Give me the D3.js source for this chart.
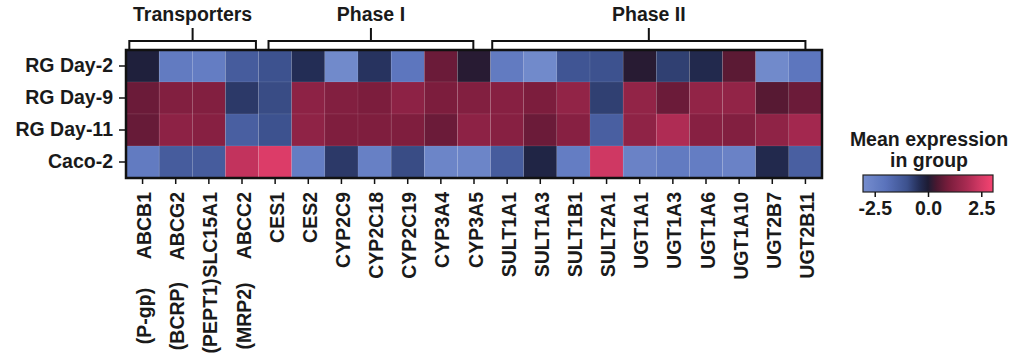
<!DOCTYPE html>
<html>
<head>
<meta charset="utf-8">
<script src="https://cdn.jsdelivr.net/npm/d3@7"></script>
<style>
  html, body { margin: 0; padding: 0; background: #ffffff; }
  svg text { font-family: "Liberation Sans", Arial, sans-serif; font-weight: bold; fill: #1a1a1a; }
</style>
</head>
<body>
<svg id="chart" width="1024" height="364"></svg>
<script>
// ---- data ----
const genes = ["ABCB1","ABCG2","SLC15A1","ABCC2","CES1","CES2","CYP2C9","CYP2C18","CYP2C19","CYP3A4","CYP3A5",
               "SULT1A1","SULT1A3","SULT1B1","SULT2A1","UGT1A1","UGT1A3","UGT1A6","UGT1A10","UGT2B7","UGT2B11"];
const aliases = ["(P-gp)","(BCRP)","(PEPT1)","(MRP2)"];
const groups = ["RG Day-2","RG Day-9","RG Day-11","Caco-2"];
const day2  = [-0.1,-2.3,-2.4,-1.3,-1.0,-0.4,-2.9,-0.5,-2.1, 0.8, 0.1,-2.3,-2.9,-1.1,-1.0, 0.1,-0.7,-0.3, 0.6,-2.9,-2.1];
const day9  = [ 0.8, 1.1, 1.1,-0.6,-0.9, 1.3, 1.1, 1.0, 1.3, 1.0, 1.1, 1.2, 1.0, 1.4,-0.7, 1.4, 0.8, 1.4, 1.4, 0.55, 0.8];
const day11 = [ 0.75,1.3, 1.2,-1.4,-1.0, 1.35,1.05,1.05,1.05,0.8, 1.3, 1.2, 0.8, 1.2,-1.4, 1.35,1.9, 1.2, 1.1, 1.35,1.7];
const caco2 = [-2.3,-1.3,-1.3, 2.2, 2.6,-2.4,-0.6,-2.5,-0.9,-2.7,-2.7,-1.3,-0.2,-2.4, 2.4,-2.6,-2.3,-2.4,-2.6,-0.3,-1.4];
const seriesValues = [day2, day9, day11, caco2];
const categoryNames = ["Transporters","Phase I","Phase II"];
const categoryFrom = [0.1, 4.3, 11.05];   // bracket extents, in column units
const categoryTo   = [3.92, 10.48, 20.5];
const colorbarTicks = [-2.5, 0.0, 2.5];
const colorStops  = [-3, -2, -1, -0.4, 0, 0.4, 1, 1.8, 2.5, 3];
const colorValues = ["#748ccd","#5a73bc","#3d528f","#232d55","#1d1c34","#4a1830","#7c1d3d","#a82a51","#d63a66","#f2426f"];

// ---- layout ----
const svg = d3.select("#chart");
const hmLeft = 126, hmRight = 822, hmTop = 50, hmBottom = 178;

const x = d3.scaleBand().domain(genes).range([hmLeft, hmRight]).padding(0);
const y = d3.scaleBand().domain(groups).range([hmTop, hmBottom]).padding(0);
const colUnit = d3.scaleLinear().domain([0, genes.length]).range([hmLeft, hmRight]);
const color = d3.scaleLinear().domain(colorStops).range(colorValues).interpolate(d3.interpolateRgb).clamp(true);

// cells
const cells = [];
groups.forEach((g, i) => genes.forEach((gene, j) => cells.push({g, gene, v: seriesValues[i][j]})));
svg.append("g").selectAll("rect").data(cells).join("rect")
  .attr("x", d => x(d.gene)).attr("y", d => y(d.g))
  .attr("width", x.bandwidth()).attr("height", y.bandwidth())
  .attr("fill", d => color(d.v))
  .attr("stroke", "rgba(255,255,255,0.12)").attr("stroke-width", 0.6);

// border
svg.append("rect").attr("x", hmLeft).attr("y", hmTop).attr("width", hmRight - hmLeft).attr("height", hmBottom - hmTop)
  .attr("fill", "none").attr("stroke", "#111").attr("stroke-width", 2.5);

// bottom axis
const xAxis = svg.append("g").attr("transform", `translate(0,${hmBottom + 1})`)
  .call(d3.axisBottom(x).tickSize(5).tickSizeOuter(0).tickFormat(""));
xAxis.select(".domain").remove();
xAxis.selectAll("line").attr("stroke", "#111").attr("stroke-width", 1.5);

// gene labels
const fs = 19.5;
svg.append("g").selectAll("text").data(genes).join("text")
  .attr("transform", d => `translate(${x(d) + x.bandwidth() / 2 + 1.5},192) rotate(-90)`)
  .attr("text-anchor", "end").attr("dy", "0.36em")
  .style("font-size", fs + "px").text(d => d);
svg.append("g").selectAll("text").data(aliases).join("text")
  .attr("transform", (d, i) => `translate(${x(genes[i]) + x.bandwidth() / 2 + 1.5},316) rotate(-90)`)
  .attr("text-anchor", "middle").attr("dy", "0.36em")
  .style("font-size", fs + "px").text(d => d);

// left axis
const yAxis = svg.append("g").attr("transform", `translate(${hmLeft - 1},0)`)
  .call(d3.axisLeft(y).tickSize(6).tickSizeOuter(0).tickPadding(6));
yAxis.select(".domain").remove();
yAxis.selectAll("line").attr("stroke", "#111").attr("stroke-width", 1.5);
yAxis.selectAll("text").style("font-size", fs + "px")
  .style("font-family", "'Liberation Sans', Arial, sans-serif").style("font-weight", "bold").attr("fill", "#1a1a1a");

// category brackets
const bY = 41, sY = 28;
categoryNames.forEach((name, i) => {
  const x0 = colUnit(categoryFrom[i]), x1 = colUnit(categoryTo[i]), xm = (x0 + x1) / 2;
  svg.append("path")
    .attr("d", `M${x0},${hmTop}V${bY}H${x1}V${hmTop}M${xm},${bY}V${sY}`)
    .attr("fill", "none").attr("stroke", "#111").attr("stroke-width", 2);
  svg.append("text").attr("x", xm).attr("y", 21).attr("text-anchor", "middle")
    .style("font-size", fs + "px").text(name);
});

// colorbar
const cbX0 = 863, cbX1 = 993, cbY0 = 175, cbY1 = 192;
const cbScale = d3.scaleLinear().domain([-3.05, 3.05]).range([cbX0, cbX1]);
const defs = svg.append("defs");
const grad = defs.append("linearGradient").attr("id", "cbgrad").attr("x1", "0%").attr("x2", "100%");
d3.range(0, 1.0001, 0.02).forEach(t => {
  const v = -3.05 + t * 6.1;
  grad.append("stop").attr("offset", (t * 100) + "%").attr("stop-color", color(v));
});
svg.append("rect").attr("x", cbX0).attr("y", cbY0).attr("width", cbX1 - cbX0).attr("height", cbY1 - cbY0)
  .attr("fill", "url(#cbgrad)").attr("stroke", "#222").attr("stroke-width", 1.2);
const cbAxis = svg.append("g").attr("transform", `translate(0,${cbY1})`)
  .call(d3.axisBottom(cbScale).tickValues(colorbarTicks).tickSize(5).tickPadding(4).tickFormat(d3.format(".1f")));
cbAxis.select(".domain").remove();
cbAxis.selectAll("line").attr("stroke", "#111").attr("stroke-width", 1.5);
cbAxis.selectAll("text").style("font-size", fs + "px")
  .style("font-family", "'Liberation Sans', Arial, sans-serif").style("font-weight", "bold").attr("fill", "#1a1a1a")
  .text(d => d3.format(".1f")(d).replace("−", "-"));
svg.append("text").attr("x", 929).attr("y", 146).attr("text-anchor", "middle")
  .style("font-size", fs + "px").text("Mean expression");
svg.append("text").attr("x", 929).attr("y", 167).attr("text-anchor", "middle")
  .style("font-size", fs + "px").text("in group");
</script>
</body>
</html>
